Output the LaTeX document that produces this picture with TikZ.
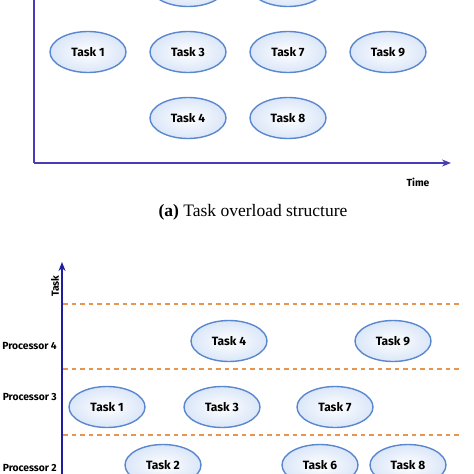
\documentclass[tikz,border=0pt]{standalone}
\usepackage{fontspec}
\setmainfont{Liberation Serif}
\newfontfamily\taskfont{Fira Sans}
\usetikzlibrary{shapes.geometric,arrows.meta}
\definecolor{axisA}{RGB}{70,60,180}
\definecolor{axisB}{RGB}{30,30,160}
\definecolor{ellline}{RGB}{90,135,205}
\definecolor{ellfill}{RGB}{218,230,248}
\definecolor{dashor}{RGB}{230,150,80}
\tikzset{
  task/.style={ellipse, draw=ellline, line width=1.4pt, minimum width=76pt, minimum height=41pt,
    inner sep=0pt, shading=radial, inner color=white, outer color=ellfill,
    font=\taskfont\bfseries\fontsize{12}{14}\selectfont, text=black},
  axisa/.style={draw=axisA, line width=1.8pt},
  axisb/.style={draw=axisB, line width=1.8pt, -{Stealth[length=9pt,width=7pt]}},
  lab/.style={font=\taskfont\bfseries\fontsize{10.3}{12}\selectfont, text=black, inner sep=0pt},
  sep/.style={draw=dashor, line width=1.5pt, dash pattern=on 4.5pt off 4pt},
}
\begin{document}
\begin{tikzpicture}[x=1pt,y=-1pt]
\useasboundingbox (0,0) rectangle (474,474);
\clip (0,0) rectangle (474,474);
% ---- (a) ----
\coordinate (oA) at (34,163);
\coordinate (tA) at (34,-20);
\coordinate (eA) at (451,163);
\draw[axisa] (tA) -- (oA);
\draw[axisa, -{Stealth[length=9pt,width=7pt]}] (oA) -- (eA);
\node[lab] (time) at (418,182) {Time};
\node[task] (a2) at (188,-14) {};
\node[task] (a6) at (288,-14) {};
\node[task] (a1) at (88,52) {Task 1};
\node[task] (a3) at (188,52) {Task 3};
\node[task] (a7) at (288,52) {Task 7};
\node[task] (a9) at (388,52) {Task 9};
\node[task] (a4) at (188,118) {Task 4};
\node[task] (a8) at (288,118) {Task 8};
\node[font=\fontsize{17.5}{20}\selectfont, inner sep=0pt] (capa) at (253,212) {\textbf{(a)} Task overload structure};
% ---- (b) ----
\coordinate (oB) at (62,480);
\coordinate (tB) at (62,262);
\draw[axisb] (oB) -- (tB);
\node[lab, rotate=90] (tasklab) at (55,286) {Task};
\coordinate (d1l) at (63,304); \coordinate (d1r) at (461,304);
\coordinate (d2l) at (63,369); \coordinate (d2r) at (461,369);
\coordinate (d3l) at (63,435); \coordinate (d3r) at (461,435);
\draw[sep] (d1l) -- (d1r);
\draw[sep] (d2l) -- (d2r);
\draw[sep] (d3l) -- (d3r);
\node[lab, anchor=east] (p4) at (57,346) {Processor 4};
\node[lab, anchor=east] (p3) at (57,397) {Processor 3};
\node[lab, anchor=east] (p2) at (57,468) {Processor 2};
\node[task] (b4) at (229,341) {Task 4};
\node[task] (b9) at (393,341) {Task 9};
\node[task] (b1) at (107,407) {Task 1};
\node[task] (b3) at (222,407) {Task 3};
\node[task] (b7) at (335,407) {Task 7};
\node[task] (b2) at (163,465) {Task 2};
\node[task] (b6) at (320,465) {Task 6};
\node[task] (b8) at (408,465) {Task 8};
\end{tikzpicture}
\end{document}
